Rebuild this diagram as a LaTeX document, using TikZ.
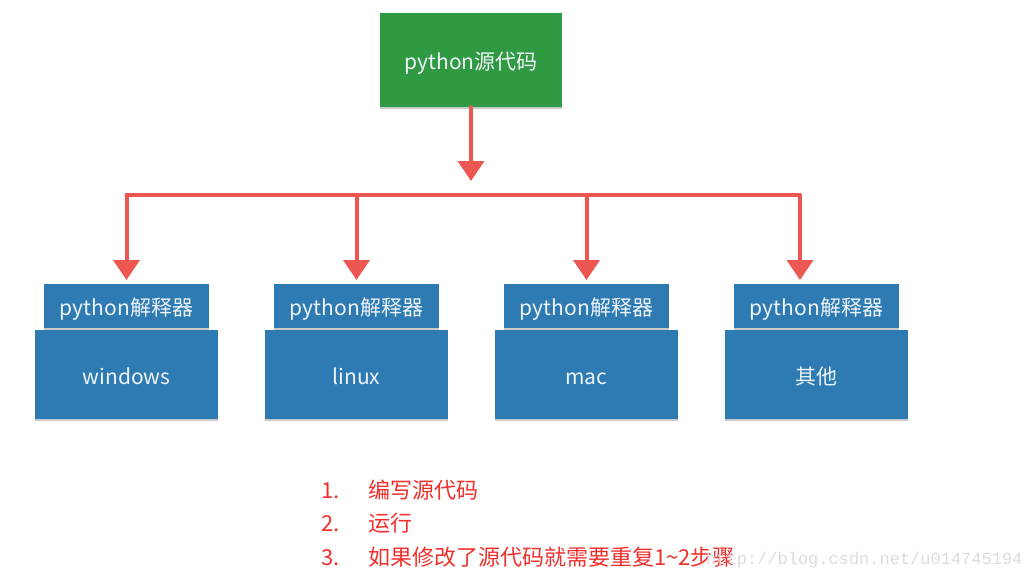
\documentclass[tikz,border=0pt]{standalone}
\usepackage{fontspec}
\setmainfont{Noto Sans CJK SC}
\setmonofont{Liberation Mono}
\usetikzlibrary{arrows.meta,shadows}
\definecolor{srcgreen}{HTML}{2F9A41}
\definecolor{boxblue}{HTML}{2E7BB3}
\definecolor{arrowred}{HTML}{EC5752}
\definecolor{listred}{HTML}{F0302C}
\definecolor{boxtext}{HTML}{EEF4FA}
\definecolor{wmgray}{HTML}{DCDCDC}
\tikzset{
  boxbase/.style={rectangle, inner sep=0pt, text=boxtext,
    font=\fontsize{21}{25}\selectfont, text height=22pt, text depth=3pt,
    drop shadow={shadow xshift=0pt, shadow yshift=-1.5pt, opacity=0.35, fill=black!60}},
  srcbox/.style={boxbase, fill=srcgreen, minimum width=182pt, minimum height=94pt},
  interp/.style={boxbase, fill=boxblue, minimum width=165pt, minimum height=44pt},
  osbox/.style={boxbase, fill=boxblue, minimum width=183pt, minimum height=89pt},
  redline/.style={draw=arrowred, line width=4pt, line cap=round, line join=round},
  redarrow/.style={redline, -{Triangle[width=26pt,length=20pt]}},
  listitem/.style={anchor=base west, inner sep=0pt, text=listred, font=\fontsize{22}{26}\selectfont},
  wmark/.style={anchor=base west, inner sep=0pt, text=wmgray, font=\ttfamily\fontsize{17}{20}\selectfont}
}
\begin{document}
\begin{tikzpicture}[x=1pt,y=-1pt]
\useasboundingbox (0,0) rectangle (1033,584);
\node[srcbox] (src) at (471,60) {python源代码};

\node[interp] (i1) at (126.5,306) {python解释器};
\node[interp] (i2) at (356.5,306) {python解释器};
\node[interp] (i3) at (586.5,306) {python解释器};
\node[interp] (i4) at (816.5,306) {python解释器};

\node[osbox] (o1) at (126.5,374.5) {windows};
\node[osbox] (o2) at (356.5,374.5) {linux};
\node[osbox] (o3) at (586.5,374.5) {mac};
\node[osbox] (o4) at (816.5,374.5) {其他};

\coordinate (hub) at (471,181);
\coordinate (b1) at (126.5,195);
\coordinate (b2) at (356.5,195);
\coordinate (b3) at (586.5,195);
\coordinate (b4) at (800,195);
\coordinate (t1) at (126.5,280);
\coordinate (t2) at (356.5,280);
\coordinate (t3) at (586.5,280);
\coordinate (t4) at (800,280);

\draw[redarrow] (src.south) -- (hub);
\draw[redline] (b1) -- (b4);
\draw[redarrow] (b1) -- (t1);
\draw[redarrow] (b2) -- (t2);
\draw[redarrow] (b3) -- (t3);
\draw[redarrow] (b4) -- (t4);

\node[listitem] (l1) at (321,498) {\makebox[47pt][l]{1.}编写源代码};
\node[listitem] (l2) at (321,531) {\makebox[47pt][l]{2.}运行};
\node[listitem] (l3) at (321,565) {\makebox[47pt][l]{3.}如果修改了源代码就需要重复1\textasciitilde2步骤};
\node[wmark] (wm) at (706,564) {http://blog.csdn.net/u014745194};
\end{tikzpicture}
\end{document}
